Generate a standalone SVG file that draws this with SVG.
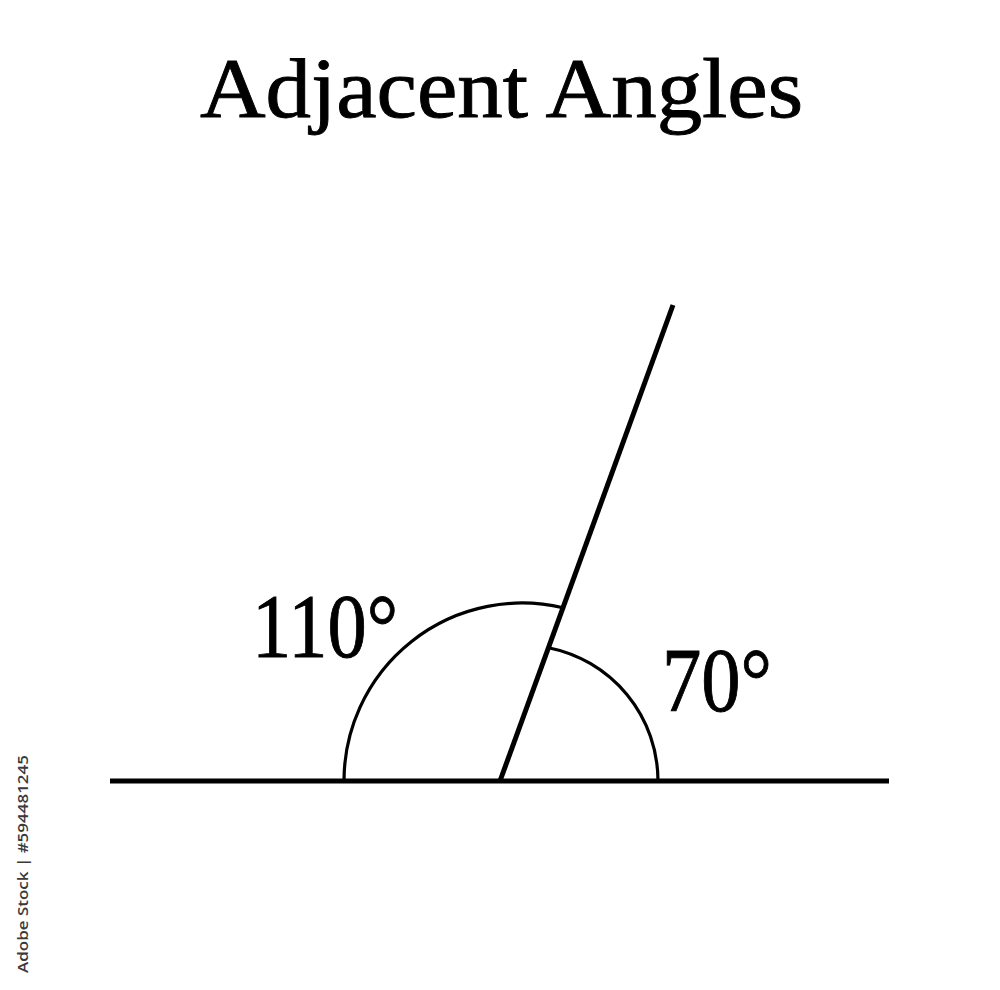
<svg xmlns="http://www.w3.org/2000/svg" width="1000" height="990" viewBox="0 0 1000 990">
  <style>
    .ln { stroke: #000; fill: none; stroke-linecap: butt; }
    .thick { stroke-width: 5; }
    .arc { stroke-width: 3.2; }
    .lbl { font-family: "Liberation Serif", "Times New Roman", serif; fill: #000; stroke: #000; stroke-width: 0.9; }
    .wm { font-family: "Open Sans", "DejaVu Sans", sans-serif; font-weight: 600; fill: #3a3a3a; }
  </style>
  <rect x="0" y="0" width="1000" height="990" fill="#fff"/>
  <g id="title">
    <text class="lbl" x="200" y="117" font-size="84" textLength="603" lengthAdjust="spacingAndGlyphs">Adjacent Angles</text>
  </g>
  <g id="lines">
    <line id="baseline" class="ln thick" x1="110" y1="781" x2="889" y2="781"/>
    <line id="ray" class="ln thick" x1="500" y1="781" x2="673" y2="305"/>
  </g>
  <g id="arcs">
    <path id="arc110" class="ln arc" d="M 344 781 A 178 178 0 0 1 563 607.8"/>
    <path id="arc70" class="ln arc" d="M 658 781 A 136 136 0 0 0 548.5 647.7"/>
  </g>
  <g id="labels">
    <text id="lbl110" class="lbl" x="252" y="657" font-size="90" textLength="146" lengthAdjust="spacingAndGlyphs">110°</text>
    <text id="lbl70" class="lbl" x="662" y="711" font-size="90" textLength="110" lengthAdjust="spacingAndGlyphs">70°</text>
  </g>
  <g id="watermark">
    <text class="wm" transform="translate(28,973) rotate(-90)" x="0" y="0" font-size="15" textLength="218" lengthAdjust="spacingAndGlyphs">Adobe Stock | #594481245</text>
  </g>
</svg>
